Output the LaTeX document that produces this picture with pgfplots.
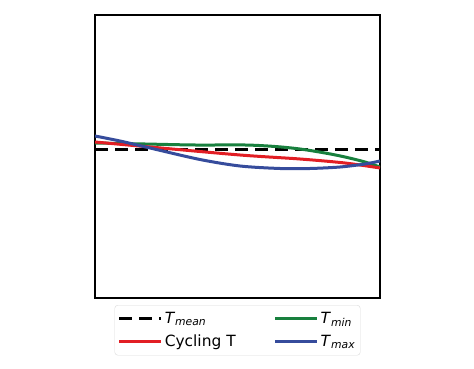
\documentclass[border=0pt]{standalone}
\usepackage{fontspec}
\setmainfont{DejaVu Sans}
\usepackage{pgfplots}
\pgfplotsset{compat=1.18}
\definecolor{cred}{RGB}{226,30,36}
\definecolor{cgreen}{RGB}{24,128,62}
\definecolor{cblue}{RGB}{54,76,156}
\begin{document}
\begin{tikzpicture}
\path (0,0) rectangle (474bp,369bp);
\begin{axis}[
  at={(95bp,71bp)}, anchor=south west,
  scale only axis, width=285bp, height=283bp,
  xmin=0, xmax=285, ymin=0, ymax=283,
  axis line style={line width=1.6bp},
  ticks=none,
  legend columns=2,
  legend cell align=left,
  legend style={at={(0.5,-0.025)}, anchor=north, draw=black!15, rounded corners=3bp,
    font=\fontsize{15.5}{18}\selectfont, inner xsep=3bp, inner ysep=5bp,
    /tikz/every even column/.append style={column sep=36bp},
    row sep=6bp},
  legend image code/.code={\draw[#1] (0bp,0bp) -- (34bp,0bp); \path (0bp,0bp) -- (42bp,0bp);},
]
\addplot[black, line width=3bp, dash pattern=on 13bp off 7bp] coordinates {(0,148) (285,148)};
\addlegendentry{\textit{T}\textsubscript{\textit{mean}}}
\addplot[cgreen, line width=3bp, smooth] coordinates {(0,155) (50,154) (100,153) (150,153) (180,151.5) (205,149) (230,145) (250,141) (270,136) (285,131)};
\addlegendentry{\textit{T}\textsubscript{\textit{min}}}
\addplot[cred, line width=3bp, smooth] coordinates {(0,156) (55,151) (145,143) (205,139) (250,135) (285,130)};
\addlegendentry{Cycling T}
\addplot[cblue, line width=3bp, smooth] coordinates {(0,162) (25,157) (55,150) (105,138.5) (145,132) (185,129.5) (215,129.5) (245,131) (270,134) (285,137)};
\addlegendentry{\textit{T}\textsubscript{\textit{max}}}
\end{axis}
\end{tikzpicture}
\end{document}
